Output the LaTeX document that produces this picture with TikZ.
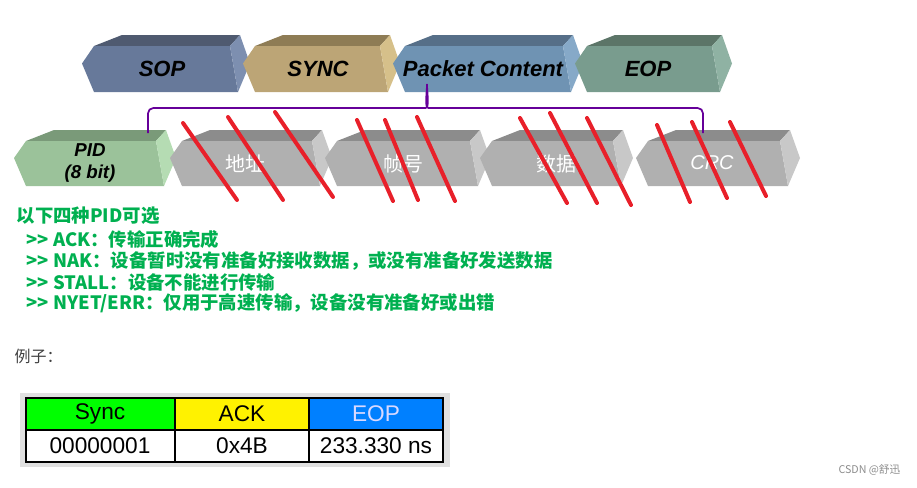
\documentclass[tikz,border=0pt]{standalone}
\usepackage{fontspec}
\setmainfont{Liberation Sans}
\newfontfamily\cjk{Noto Sans CJK SC}
\begin{document}
\begin{tikzpicture}[x=0.75pt,y=-0.75pt,
  toplbl/.style={font=\fontsize{16.5}{18}\selectfont\bfseries\itshape,text=black},
  botlbl/.style={font=\fontsize{15}{16}\selectfont\itshape,text=white,align=center},
  redx/.style={draw=redc,line width=3pt,line cap=round},
  grn/.style={anchor=west,text=grnc,font=\cjk\fontsize{13.8}{15}\selectfont\bfseries},
  cell/.style={draw=black,line width=0.8pt},
  celltxt/.style={font=\fontsize{17}{18}\selectfont}]
\useasboundingbox (0,0) rectangle (917,487);
\newcommand\blk[7]{%
  \fill[#6] ({#1+12},{#3+11}) -- ({#1+40},#3) -- ({#2-10},#3) -- ({#2-20},{#3+11}) -- cycle;
  \fill[#5] (#1,{(#3+#4)/2}) -- ({#1+12},{#3+11}) -- ({#2-20},{#3+11}) -- ({#2-12},#4) -- ({#1+12},#4) -- cycle;
  \fill[#7] ({#2-20},{#3+11}) -- ({#2-10},#3) -- (#2,{(#3+#4)/2}) -- ({#2-12},#4) -- cycle;}
\definecolor{redc}{HTML}{E8202A}\definecolor{grnc}{HTML}{00B050}
\definecolor{sopf}{HTML}{67799A}\definecolor{sopt}{HTML}{4F5A70}\definecolor{sops}{HTML}{7D8FB0}
\definecolor{synf}{HTML}{BCA576}\definecolor{synt}{HTML}{8E7C55}\definecolor{syns}{HTML}{D6C08A}
\definecolor{pcf}{HTML}{6F93B3}\definecolor{pct}{HTML}{566F88}\definecolor{pcs}{HTML}{86A9C8}
\definecolor{eopf}{HTML}{799C8E}\definecolor{eopt}{HTML}{5C7568}\definecolor{eops}{HTML}{8FB2A3}
\definecolor{pidf}{HTML}{9BC29A}\definecolor{pidt}{HTML}{7A9A79}\definecolor{pids}{HTML}{B5DCB3}
\definecolor{gyf}{HTML}{B0B0B0}\definecolor{gyt}{HTML}{8C8C8C}\definecolor{gys}{HTML}{C8C8C8}
\blk{82}{250}{35}{92}{sopf}{sopt}{sops}
\blk{243}{400}{35}{92}{synf}{synt}{syns}
\blk{393}{583}{35}{92}{pcf}{pct}{pcs}
\blk{575}{732}{35}{92}{eopf}{eopt}{eops}
\node[toplbl] (sop) at (162,69) {SOP};
\node[toplbl] (sync) at (318,69) {SYNC};
\node[toplbl] (pc) at (483,69) {Packet Content};
\node[toplbl] (eop) at (648,69) {EOP};
\blk{14}{176}{130}{186}{pidf}{pidt}{pids}
\blk{170}{332}{130}{186}{gyf}{gyt}{gys}
\blk{325}{490}{130}{186}{gyf}{gyt}{gys}
\blk{480}{633}{130}{186}{gyf}{gyt}{gys}
\blk{636}{800}{130}{186}{gyf}{gyt}{gys}
\node[botlbl,text=black,font=\fontsize{14}{17}\selectfont\bfseries\itshape] (pid) at (90,163) {PID\\(8 bit)};
\node[botlbl,font=\cjk\fontsize{15}{16}\selectfont\itshape] (addr) at (245,164) {地址};
\node[botlbl,font=\cjk\fontsize{15}{16}\selectfont\itshape] (frm) at (403,164) {帧号};
\node[botlbl,font=\cjk\fontsize{15}{16}\selectfont\itshape] (dat) at (556,164) {数据};
\node[botlbl] (crc) at (712,163) {CRC};
% bracket
\coordinate (bl) at (148,133);
\coordinate (br) at (703,133);
\coordinate (bm) at (427,84);
\draw[line width=1.3pt,color=violet!80!blue,rounded corners=4pt] (bl) -- (148,108) -- (420,108) to[out=0,in=-90] (bm);
\draw[line width=1.3pt,color=violet!80!blue,rounded corners=4pt] (bm) to[out=-90,in=180] (434,108) -- (703,108) -- (br);
% red strikes
\foreach \a/\b/\c/\d in {183/123/237/200,228/117/283/200,275/112/333/197,357/120/393/201,385/120/418/200,417/117/455/201,520/118/567/203,550/113/597/203,587/118/631/205,657/125/690/202,692/122/727/198,730/122/766/196}
  \draw[redx] (\a,\b) -- (\c,\d);
% green text
\node[grn] (t0) at (12,216) {以下四种PID可选};
\node[grn] (t1) at (22,239) {>> ACK：传输正确完成};
\node[grn] (t2) at (22,261) {>> NAK：设备暂时没有准备好接收数据，或没有准备好发送数据};
\node[grn] (t3) at (22,282) {>> STALL：设备不能进行传输};
\node[grn] (t4) at (22,303) {>> NYET/ERR：仅用于高速传输，设备没有准备好或出错};
\node[anchor=west,text=black!75,font=\cjk\fontsize{12}{13}\selectfont] (ex) at (10,356) {例子：};
% table
\fill[black!12] (20,393) rectangle (450,467);
\fill[green] (26,398) rectangle (175,430);
\fill[yellow] (175,398) rectangle (309,430);
\fill[blue!50!cyan] (309,398) rectangle (443,430);
\fill[white] (26,430) rectangle (443,462);
\draw[cell] (26,398) rectangle (443,462);
\draw[cell] (26,430) -- (443,430);
\draw[cell] (175,398) -- (175,462);
\draw[cell] (309,398) -- (309,462);
\node[celltxt] (h1) at (100,414) {Sync};
\node[celltxt] (h2) at (242,414) {ACK};
\node[celltxt,text=white!85!blue] (h3) at (376,414) {EOP};
\node[celltxt] (v1) at (100,446) {00000001};
\node[celltxt] (v2) at (242,446) {0x4B};
\node[celltxt] (v3) at (376,446) {233.330 ns};
\node[anchor=east,text=black!45,font=\cjk\fontsize{8}{10}\selectfont] (csdn) at (905,470) {CSDN @舒迅};
\end{tikzpicture}
\end{document}
